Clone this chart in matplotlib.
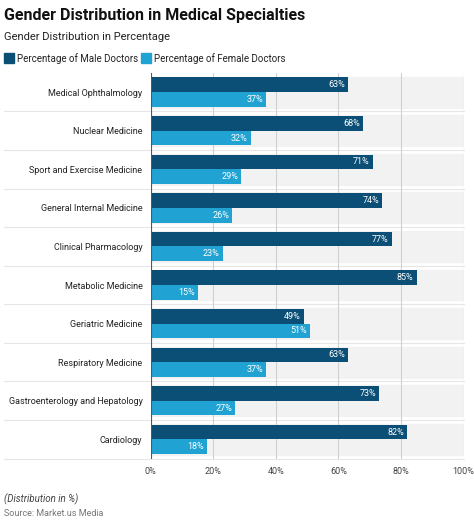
import matplotlib.pyplot as plt
import numpy as np

specialties = ["Medical Ophthalmology", "Nuclear Medicine", "Sport and Exercise Medicine",
               "General Internal Medicine", "Clinical Pharmacology", "Metabolic Medicine",
               "Geriatric Medicine", "Respiratory Medicine", "Gastroenterology and Hepatology",
               "Cardiology"]
male = [63, 68, 71, 74, 77, 85, 49, 63, 73, 82]
female = [37, 32, 29, 26, 23, 15, 51, 37, 27, 18]

male_color = "#0b4f76"
female_color = "#20a2d3"

plt.rcParams['font.family'] = ['Roboto', 'DejaVu Sans']
fig = plt.figure(figsize=(4.74, 5.2), dpi=100)
ax = fig.add_axes([0.318, 0.118, 0.66, 0.742])

n = len(specialties)
y = np.arange(n)
h = 0.38
for i in y:
    ax.axhspan(i - 0.4, i + 0.4, color="#f2f2f2", zorder=0)
    # separator lines extending into label area
    ax.plot([-0.47, 1.0], [i + 0.5, i + 0.5], transform=ax.get_yaxis_transform(),
            color="#e6e6e6", lw=0.8, clip_on=False, zorder=0)

ax.barh(y - h / 2, male, height=h, color=male_color, zorder=3)
ax.barh(y + h / 2, female, height=h, color=female_color, zorder=3)
for i in y:
    ax.text(male[i] - 1, i - h / 2, f"{male[i]}%", color="white", ha="right",
            va="center", fontsize=6.5, zorder=4)
    ax.text(female[i] - 1, i + h / 2, f"{female[i]}%", color="white", ha="right",
            va="center", fontsize=6.5, zorder=4)

ax.set_xlim(0, 100)
ax.set_ylim(n - 0.5, -0.5)
ax.set_xticks([0, 20, 40, 60, 80, 100])
ax.set_xticklabels(["0%", "20%", "40%", "60%", "80%", "100%"], fontsize=6.5, color="#444444")
ax.set_yticks(y)
ax.set_yticklabels(specialties, fontsize=6.5, color="#222222")
ax.tick_params(length=0, pad=6)
ax.grid(axis="x", color="#d0d0d0", lw=0.8, zorder=1)
ax.set_axisbelow(True)
for s in ax.spines.values():
    s.set_visible(False)
ax.axvline(0, color="#555555", lw=0.8, zorder=5)

fig.text(0.008, 0.97, "Gender Distribution in Medical Specialties", fontsize=11.5,
         fontweight="bold", va="center", color="#111111")
fig.text(0.008, 0.928, "Gender Distribution in Percentage", fontsize=8, va="center", color="#222222")
fig.patches.append(plt.Rectangle((0.008, 0.878), 0.022, 0.02, color=male_color, transform=fig.transFigure))
fig.text(0.036, 0.888, "Percentage of Male Doctors", fontsize=7, va="center", color="#222222")
fig.patches.append(plt.Rectangle((0.297, 0.878), 0.022, 0.02, color=female_color, transform=fig.transFigure))
fig.text(0.325, 0.888, "Percentage of Female Doctors", fontsize=7, va="center", color="#222222")

fig.text(0.008, 0.04, "(Distribution in %)", fontsize=7, style="italic", va="center", color="#444444")
fig.text(0.008, 0.013, "Source: Market.us Media", fontsize=6.5, va="center", color="#777777")

fig.savefig("out.png", dpi=100)
